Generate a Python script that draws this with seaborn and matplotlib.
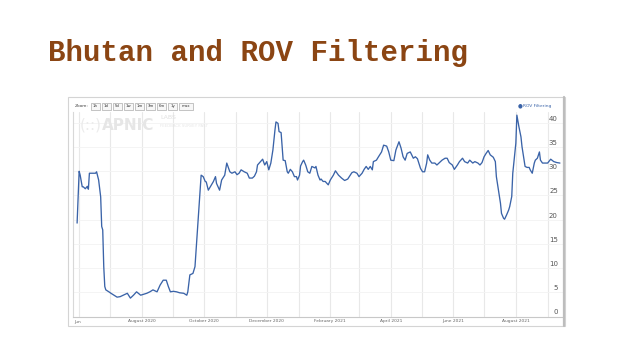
import pandas as pd
import matplotlib.pyplot as plt
import matplotlib.transforms as mtransforms
from matplotlib.patches import Rectangle
import seaborn as sns

# Data (daily ROV filtering %, Bhutan)
dates = [
    "2020-05-30", "2020-06-01", "2020-06-02", "2020-06-04", "2020-06-05", "2020-06-07",
    "2020-06-09", "2020-06-10", "2020-06-11", "2020-06-13", "2020-06-17", "2020-06-18",
    "2020-06-20", "2020-06-22", "2020-06-23", "2020-06-24", "2020-06-25", "2020-06-26",
    "2020-06-27", "2020-06-30", "2020-07-02", "2020-07-05", "2020-07-08", "2020-07-11",
    "2020-07-14", "2020-07-18", "2020-07-21", "2020-07-24", "2020-07-27", "2020-07-31",
    "2020-08-03", "2020-08-06", "2020-08-09", "2020-08-12", "2020-08-16", "2020-08-19",
    "2020-08-22", "2020-08-25", "2020-08-27", "2020-08-29", "2020-09-01", "2020-09-04",
    "2020-09-07", "2020-09-11", "2020-09-14", "2020-09-15", "2020-09-17", "2020-09-20",
    "2020-09-22", "2020-09-24", "2020-09-25", "2020-09-27", "2020-09-28", "2020-09-30",
    "2020-10-02", "2020-10-03", "2020-10-05", "2020-10-08", "2020-10-10", "2020-10-12",
    "2020-10-13", "2020-10-16", "2020-10-18", "2020-10-21", "2020-10-23", "2020-10-26",
    "2020-10-28", "2020-10-31", "2020-11-02", "2020-11-04", "2020-11-06", "2020-11-09",
    "2020-11-12", "2020-11-14", "2020-11-17", "2020-11-19", "2020-11-21", "2020-11-22",
    "2020-11-25", "2020-11-27", "2020-11-29", "2020-12-01", "2020-12-03", "2020-12-05",
    "2020-12-07", "2020-12-09", "2020-12-10", "2020-12-12", "2020-12-13", "2020-12-15",
    "2020-12-17", "2020-12-19", "2020-12-21", "2020-12-22", "2020-12-24", "2020-12-26",
    "2020-12-28", "2020-12-30", "2020-12-31", "2021-01-02", "2021-01-03", "2021-01-05",
    "2021-01-06", "2021-01-08", "2021-01-10", "2021-01-12", "2021-01-14", "2021-01-17",
    "2021-01-18", "2021-01-20", "2021-01-22", "2021-01-23", "2021-01-25", "2021-01-27",
    "2021-01-30", "2021-02-01", "2021-02-04", "2021-02-06", "2021-02-09", "2021-02-12",
    "2021-02-15", "2021-02-18", "2021-02-22", "2021-02-24", "2021-02-27", "2021-03-01",
    "2021-03-04", "2021-03-06", "2021-03-08", "2021-03-10", "2021-03-12", "2021-03-14",
    "2021-03-15", "2021-03-18", "2021-03-20", "2021-03-23", "2021-03-25", "2021-03-28",
    "2021-03-30", "2021-04-01", "2021-04-04", "2021-04-06", "2021-04-09", "2021-04-11",
    "2021-04-13", "2021-04-15", "2021-04-17", "2021-04-20", "2021-04-23", "2021-04-25",
    "2021-04-27", "2021-04-30", "2021-05-02", "2021-05-04", "2021-05-06", "2021-05-07",
    "2021-05-09", "2021-05-11", "2021-05-14", "2021-05-16", "2021-05-18", "2021-05-21",
    "2021-05-24", "2021-05-26", "2021-05-28", "2021-05-31", "2021-06-02", "2021-06-05",
    "2021-06-07", "2021-06-10", "2021-06-12", "2021-06-15", "2021-06-17", "2021-06-20",
    "2021-06-22", "2021-06-25", "2021-06-27", "2021-06-29", "2021-07-01", "2021-07-03",
    "2021-07-05", "2021-07-07", "2021-07-10", "2021-07-12", "2021-07-13", "2021-07-15",
    "2021-07-17", "2021-07-18", "2021-07-20", "2021-07-21", "2021-07-23", "2021-07-25",
    "2021-07-26", "2021-07-28", "2021-07-29", "2021-07-30", "2021-08-01", "2021-08-02",
    "2021-08-04", "2021-08-06", "2021-08-07", "2021-08-09", "2021-08-10", "2021-08-12",
    "2021-08-14", "2021-08-15", "2021-08-17", "2021-08-19", "2021-08-20", "2021-08-22",
    "2021-08-24", "2021-08-25", "2021-08-27", "2021-08-28", "2021-09-01", "2021-09-04",
    "2021-09-07", "2021-09-10", "2021-09-13",
]
rov_pct = [
    19.3, 30.0, 29.2, 26.8, 26.8, 26.4,
    26.9, 26.3, 29.6, 29.6, 29.6, 29.9,
    28.2, 24.7, 18.6, 17.9, 10.3, 6.2,
    5.5, 5.1, 4.8, 4.4, 4.0, 4.1,
    4.4, 4.8, 3.8, 4.4, 5.1, 4.4,
    4.6, 4.8, 5.1, 5.5, 5.1, 6.5,
    7.5, 7.5, 6.2, 5.1, 5.2, 5.1,
    4.9, 4.8, 4.4, 5.1, 8.6, 8.9,
    10.3, 16.5, 19.3, 25.5, 29.2, 28.9,
    27.9, 27.8, 26.1, 27.2, 27.9, 28.9,
    27.5, 26.1, 28.2, 29.2, 31.7, 29.9,
    29.6, 29.9, 29.3, 29.6, 30.3, 29.9,
    29.6, 28.6, 28.6, 29.0, 29.9, 31.3,
    32.0, 32.5, 31.3, 32.0, 30.3, 31.7,
    34.4, 38.5, 40.2, 39.9, 38.2, 38.0,
    32.3, 32.2, 29.9, 29.6, 30.4, 29.9,
    28.9, 28.9, 28.2, 29.2, 31.1, 32.0,
    32.3, 31.3, 29.9, 29.6, 31.0, 30.7,
    31.0, 29.2, 28.2, 28.4, 27.9, 27.9,
    27.2, 28.2, 29.2, 30.1, 29.2, 28.6,
    28.1, 28.4, 29.7, 29.9, 29.6, 28.9,
    29.6, 30.4, 31.0, 30.4, 31.0, 30.3,
    32.0, 32.3, 33.0, 34.0, 35.4, 35.2,
    34.0, 32.3, 32.2, 34.4, 36.1, 34.8,
    33.0, 32.3, 33.7, 34.0, 32.7, 33.0,
    32.6, 30.6, 29.9, 29.9, 31.7, 33.4,
    32.3, 31.7, 31.7, 31.3, 31.7, 32.3,
    32.7, 32.7, 31.8, 31.3, 30.4, 31.3,
    32.0, 32.7, 32.0, 31.7, 32.3, 31.7,
    32.0, 31.7, 31.3, 31.8, 33.0, 33.7,
    34.3, 33.4, 32.9, 32.0, 28.9, 26.1,
    23.4, 21.3, 20.3, 20.1, 21.0, 22.0,
    22.7, 24.8, 29.6, 31.7, 35.8, 41.6,
    39.2, 37.1, 35.1, 32.3, 31.0, 30.8,
    30.8, 30.3, 29.6, 31.7, 32.3, 32.7,
    34.0, 32.3, 31.7, 31.7, 31.7, 32.5,
    32.0, 31.8, 31.7,
]

x_labels = ["August 2020", "October 2020", "December 2020", "February 2021",
            "April 2021", "June 2021", "August 2021"]
x_label_dates = ["2020-08-01", "2020-10-01", "2020-12-01", "2021-02-01",
                 "2021-04-01", "2021-06-01", "2021-08-01"]
y_ticks = [0, 5, 10, 15, 20, 25, 30, 35, 40]
zoom_buttons = ["1h", "1d", "5d", "1w", "1m", "3m", "6m", "1y", "max"]

df = pd.DataFrame({"date": pd.to_datetime(dates), "rov": rov_pct})

sns.set_style("white")
W, H = 638, 359
fig = plt.figure(figsize=(W / 100, H / 100), dpi=100)
fig.patch.set_facecolor("white")


def fx(px):
    return px / W


def fy(py):
    return 1 - py / H


# slide title
fig.text(fx(48), fy(53), "Bhutan and ROV Filtering", family="Liberation Mono",
         fontweight="bold", fontsize=21, color="#8b4513", ha="left", va="center")

# screenshot frame
fig.patches.append(Rectangle((fx(68), fy(326)), fx(565) - fx(68), fy(97) - fy(326),
                             transform=fig.transFigure, fill=False,
                             edgecolor="#d4d4d4", linewidth=0.8))
fig.lines.append(plt.Line2D([fx(564), fx(564)], [fy(326), fy(97)],
                            transform=fig.transFigure, color="#bdbdbd", linewidth=1.6))

ax = fig.add_axes([fx(73), fy(316.5), fx(563) - fx(73), fy(112) - fy(316.5)])
ax.set_facecolor("none")

# watermark
fig.text(fx(80), fy(125), "(::)", fontsize=11, color="#ececec", ha="left", va="center")
fig.text(fx(102), fy(125), "APNIC", fontsize=11, color="#e6e6e6", ha="left", va="center",
         fontweight="bold")
fig.text(fx(160), fy(118), "LABS", fontsize=4.5, color="#e0e0e0", ha="left", va="center")
fig.text(fx(160), fy(126), "FEEDBACK SURVEY PAST", fontsize=2.8, color="#e6e6e6",
         ha="left", va="center")

sns.lineplot(data=df, x="date", y="rov", ax=ax, color="#3a63a8", linewidth=0.95)

ax.set_xlim(pd.Timestamp("2020-05-26"), pd.Timestamp("2021-09-16"))
ax.set_ylim(0, 42.25)

months = pd.date_range("2020-06-01", "2021-09-01", freq="MS")
ax.set_xticks(months, minor=True)
ax.set_xticks(pd.to_datetime(x_label_dates))
ax.set_xticklabels(x_labels)
ax.set_yticks(y_ticks)
ax.set_yticklabels([])
ax.grid(True, which="minor", axis="x", color="#e8e8e8", linewidth=0.8)
ax.grid(True, which="major", axis="x", color="#e8e8e8", linewidth=0.8)
ax.grid(True, axis="y", color="#f3f3f3", linewidth=0.6)
ax.tick_params(axis="x", which="both", length=0, labelsize=3.2, labelcolor="#666666", pad=2)
ax.tick_params(axis="y", length=0)
ax.set_xlabel("")
ax.set_ylabel("")

for s in ["top", "right"]:
    ax.spines[s].set_visible(False)
ax.spines["left"].set_color("#d8d8d8")
ax.spines["left"].set_linewidth(0.8)
ax.spines["bottom"].set_color("#c8c8c8")
ax.spines["bottom"].set_linewidth(0.8)

# y labels drawn inside the plot, above their gridlines
lab_tr = mtransforms.offset_copy(
    mtransforms.blended_transform_factory(ax.transAxes, ax.transData),
    fig=fig, x=-2, y=3, units="points")
for v in y_ticks:
    ax.text(0.995, v, str(v), transform=lab_tr, ha="right", va="center",
            fontsize=5, color="#555555")

ax.text(fx(74), fy(322), "Jun", transform=fig.transFigure, fontsize=3.2,
        color="#666666", ha="left", va="center")

# zoom buttons
fig.text(fx(75), fy(106), "Zoom:", fontsize=3.2, color="#444444", ha="left", va="center")
bx = 91
for b in zoom_buttons:
    w = 14 if b == "max" else 9
    fig.patches.append(Rectangle((fx(bx), fy(109.5)), fx(w), fy(102.5) - fy(109.5),
                                 transform=fig.transFigure, facecolor="#f7f7f7",
                                 edgecolor="#999999", linewidth=0.4))
    fig.text(fx(bx + w / 2), fy(106), b, fontsize=2.8, color="#333333",
             ha="center", va="center")
    bx += w + 2

# legend
fig.text(fx(518), fy(106), "\u25cf", fontsize=4, color="#3a63a8", ha="left", va="center")
fig.text(fx(523), fy(106), "ROV Filtering", fontsize=3.2, color="#3a63a8",
         ha="left", va="center")

fig.savefig("out.png", dpi=100)
